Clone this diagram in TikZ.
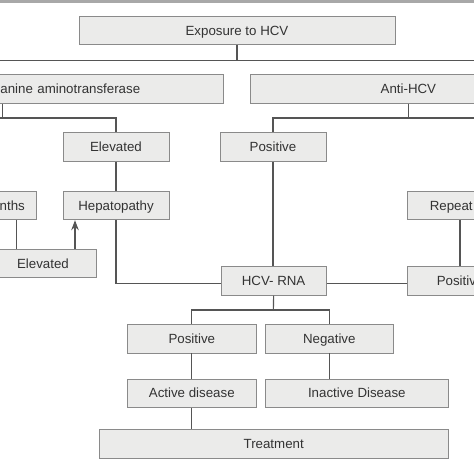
\documentclass[tikz,border=0pt]{standalone}
\usepackage{fontspec}
\setmainfont{Liberation Sans}
\usetikzlibrary{arrows.meta}
\definecolor{boxfill}{HTML}{EBEBEA}
\definecolor{boxline}{HTML}{8A8A8A}
\definecolor{conn}{HTML}{555555}
\definecolor{txt}{HTML}{333333}
\definecolor{band}{HTML}{A8A8A8}
\tikzset{
  box/.style={draw=boxline, fill=boxfill, line width=0.9pt, text=txt,
    font=\fontsize{13.3}{15}\selectfont, inner sep=0pt, minimum height=28.5pt,
    text height=11pt, text depth=1.5pt},
  link/.style={draw=conn, line width=1.1pt},
}
\begin{document}
\begin{tikzpicture}[x=1pt,y=-1pt]
\useasboundingbox (0,0) rectangle (474,474);
\clip (0,0) rectangle (474,474);
\fill[white] (0,0) rectangle (474,474);
\fill[band] (0,0) rectangle (474,3);
% boxes
\node[box, minimum width=316pt] (expo) at (237,30.5) {Exposure to HCV};
\node[box, anchor=west, text width=315pt, align=left] (alt) at (-92,89) {\hspace*{92pt}anine aminotransferase};
\node[box, minimum width=315.3pt] (anti) at (408.4,89) {Anti-HCV};
\node[box, minimum width=106pt] (elev1) at (116,147) {Elevated};
\node[box, minimum width=106pt] (pos1) at (273,147) {Positive};
\node[box, minimum width=106pt] (hep) at (116,205.5) {Hepatopathy};
\node[box, anchor=east, text width=100pt, align=right] (nths) at (37,205.5) {nths\hspace*{11.7pt}};
\node[box, anchor=west, text width=120pt, align=left] (rep) at (407.3,205.5) {\hspace*{22pt}Repeat};
\node[box, minimum width=106pt] (elev2) at (43,263.5) {Elevated};
\node[box, minimum width=105.3pt] (hcv) at (273.6,281) {HCV- RNA};
\node[box, anchor=west, text width=120pt, align=left] (pos3) at (407.3,281) {\hspace*{29pt}Positive};
\node[box, minimum width=128.3pt] (pos2) at (191.8,338.7) {Positive};
\node[box, minimum width=128pt] (neg) at (329.3,338.7) {Negative};
\node[box, minimum width=128.3pt] (act) at (191.8,393.2) {Active disease};
\node[box, minimum width=183pt] (inact) at (356.8,393.2) {Inactive Disease};
\node[box, minimum width=349.3pt] (treat) at (273.7,444) {Treatment};
% helper coordinates
\coordinate (topL) at (-5,60.7);
\coordinate (topR) at (480,60.7);
\coordinate (altdrop) at (2.7,118);
\coordinate (altL) at (-5,118);
\coordinate (antiR) at (480,118);
\coordinate (nthsx) at (16.7,0);
\coordinate (arrx) at (75,0);
\coordinate (repx) at (460,0);
\coordinate (split) at (273.4,310);
% connectors
\draw[link] (expo.south) -- (expo.south |- topL);
\draw[link] (topL) -- (topR);
\draw[link] (altdrop |- alt.south) -- (altdrop);
\draw[link] (altL) -| (elev1.north);
\draw[link] (anti.south) -- (anti.south |- antiR);
\draw[link] (antiR) -| (pos1.north);
\draw[link] (elev1.south) -- (elev1.south |- hep.north);
\draw[link] (pos1.south) -- (pos1.south |- hcv.north);
\draw[link] (hep.south) |- ([yshift=-2.3pt]hcv.west);
\draw[link] (nthsx |- nths.south) -- (nthsx |- elev2.north);
\draw[link, -{Stealth[length=10pt,width=7.5pt]}] (arrx |- elev2.north) -- (arrx |- hep.south);
\draw[link] (repx |- rep.south) -- (repx |- pos3.north);
\draw[link] ([yshift=-2.3pt]hcv.east) -- ([yshift=-2.3pt]hcv.east -| pos3.west);
\draw[link] (hcv.south) -- (split);
\draw[link] (pos2.north) |- (split) -| (neg.north);
\draw[link] (pos2.south) -- (pos2.south |- act.north);
\draw[link] (neg.south) -- (neg.south |- inact.north);
\draw[link] (act.south) -- (act.south |- treat.north);
\end{tikzpicture}
\end{document}
